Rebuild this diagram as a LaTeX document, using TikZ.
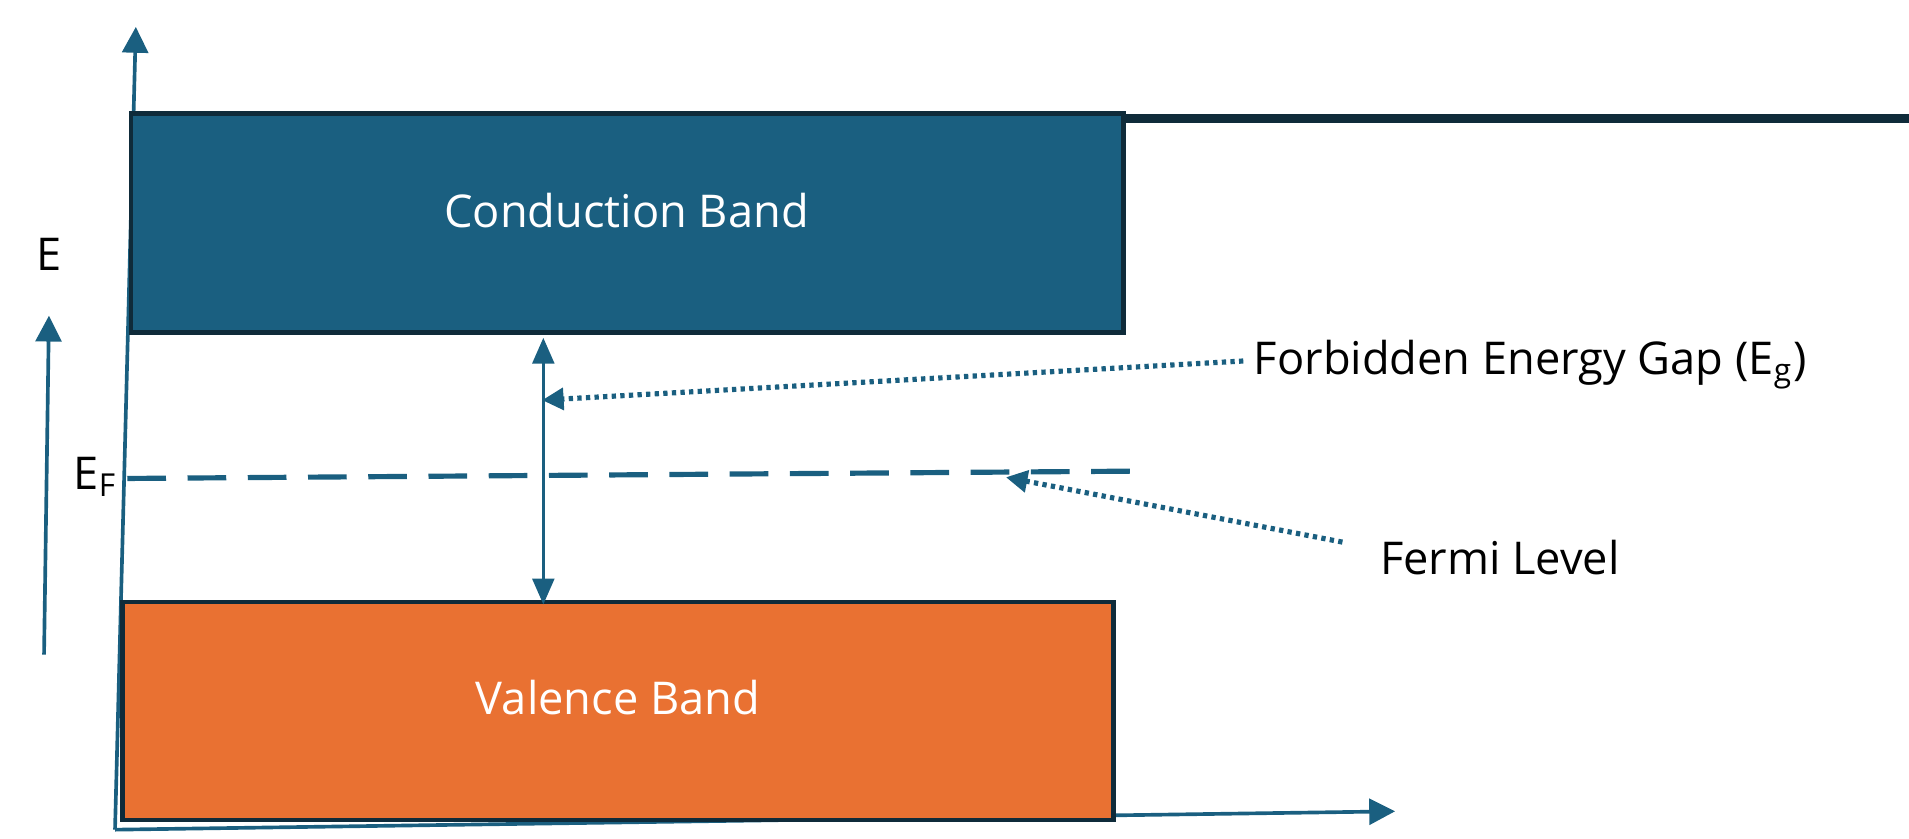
\documentclass[tikz,border=0pt]{standalone}
\usepackage{fontspec}
\setmainfont{Open Sans}
\usetikzlibrary{arrows.meta}
\definecolor{blu}{HTML}{1A5F80}
\definecolor{org}{HTML}{E97132}
\definecolor{edge}{HTML}{0F2B3A}
\begin{document}
\begin{tikzpicture}[x=0.01cm,y=-0.01cm,
  band/.style={draw=edge,line width=1.1pt},
  ax/.style={draw=blu,line width=0.85pt,-{Triangle[length=6pt,width=6pt]}},
  lbl/.style={font=\fontsize{10.5}{12}\selectfont,inner sep=0pt},
  dots/.style={draw=blu,line width=1.2pt,dash pattern=on 1pt off 1pt,-{Triangle[length=5pt,width=5pt]}}]
\useasboundingbox (0,0) rectangle (1560,685);
\coordinate (o) at (94,678);
\coordinate (ytop) at (111,22);
\coordinate (xend) at (1140,663);
\draw[ax] (o) -- (ytop);
\draw[ax] (o) -- (xend);
\node[band,fill=blu,minimum width=811\pgflinewidth,anchor=north west,inner sep=0pt] (cb) at (107,93) {};
\fill[blu,draw=edge,line width=1.1pt] (107,93) rectangle (918,272);
\node[lbl,text=white] (cbt) at (512,172) {Conduction Band};
\fill[org,draw=edge,line width=1.1pt] (100,492) rectangle (910,670);
\node[lbl,text=white] (vbt) at (505,570) {Valence Band};
\coordinate (ea) at (36,535);
\coordinate (eb) at (40,258);
\draw[ax] (ea) -- (eb);
\node[lbl] (E) at (40,208) {E};
\node[lbl] (EF) at (78,390) {E\textsubscript{F}};
\coordinate (f1) at (104,391);
\coordinate (f2) at (927,385);
\draw[blu,line width=1.2pt,dash pattern=on 9pt off 5pt] (f1) -- (f2);
\coordinate (g1) at (444,276);
\coordinate (g2) at (444,494);
\draw[blu,line width=0.85pt,{Triangle[length=6pt,width=5pt]}-{Triangle[length=6pt,width=5pt]}] (g1) -- (g2);
\node[lbl,anchor=west] (fg) at (1024,298) {Forbidden Energy Gap (E\textsubscript{g})};
\coordinate (fgt) at (443,327);
\draw[dots] (fg.west) ++(-8,-3) -- (fgt);
\node[lbl,anchor=west] (fl) at (1127,456) {Fermi Level};
\coordinate (flt) at (822,390);
\draw[dots] (1097,443) -- (flt);
\end{tikzpicture}
\end{document}
